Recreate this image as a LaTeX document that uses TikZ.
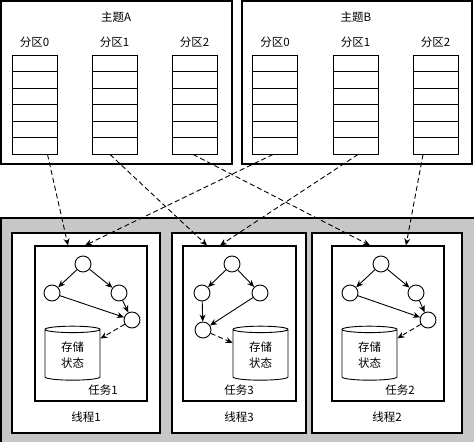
\documentclass[tikz,border=0pt]{standalone}
\usepackage{fontspec}
\setmainfont{Noto Sans CJK SC}
\usetikzlibrary{shapes.geometric, arrows.meta}

\tikzset{
  box/.style={draw, line width=1.2pt, inner sep=0pt},
  cell/.style={draw, minimum width=45pt, minimum height=16.5pt, inner sep=0pt},
  op/.style={draw, circle, minimum size=16pt, inner sep=0pt, fill=white},
  store/.style={draw, cylinder, shape border rotate=90, aspect=0.28,
    minimum width=55pt, minimum height=54pt, inner sep=0pt, align=center},
  feed/.style={->, dash pattern=on 5pt off 3pt},
  flow/.style={->}
}

\begin{document}
\begin{tikzpicture}[x=1pt, y=-1pt, >={Stealth[length=7pt, width=6pt]}, line width=0.9pt,
  font=\fontsize{11.5}{16}\selectfont]
\useasboundingbox (0,0) rectangle (474,442);
% topics
\node[box, minimum width=231pt, minimum height=163pt] (topicA) at (116.5,82.5) {};
\node[box, minimum width=230pt, minimum height=163pt] (topicB) at (357,82.5) {};
\node (titleA) at (116,17) {主题A};
\node (titleB) at (356,17) {主题B};
\foreach \p/\x in {0/34.5,1/114.5,2/194.5} {
  \node (pa\p) at (\x,42) {分区\p};
  \foreach \k in {1,...,6}
    \node[cell] (a\p-\k) at (\x,{55+16.5*(\k-0.5)}) {};
}
\foreach \p/\x in {0/275,1/355.5,2/435.5} {
  \node (pb\p) at (\x,42) {分区\p};
  \foreach \k in {1,...,6}
    \node[cell] (b\p-\k) at (\x,{55+16.5*(\k-0.5)}) {};
}
% cluster
\fill[black!22] (0,218) rectangle (474,442);
\draw[line width=1.4pt] (1,442) -- (1,218) -- (474,218);
\node[box, fill=white, minimum width=148pt, minimum height=200pt] (thread1) at (86,333) {};
\node[box, fill=white, minimum width=134pt, minimum height=200pt] (thread3) at (239,333) {};
\node[box, fill=white, minimum width=150pt, minimum height=200pt] (thread2) at (387,333) {};
\node (lthread1) at (86,417) {线程1};
\node (lthread3) at (239,417) {线程3};
\node (lthread2) at (387,417) {线程2};
\node[box, minimum width=112pt, minimum height=155pt] (task1) at (91,323.5) {};
\node[box, minimum width=113pt, minimum height=155pt] (task3) at (239.5,323.5) {};
\node[box, minimum width=112pt, minimum height=155pt] (task2) at (388,323.5) {};
\node (ltask1) at (103,390) {任务1};
\node (ltask3) at (239,390) {任务3};
\node (ltask2) at (400,390) {任务2};
% task 1
\node[op] (t1a) at (83,264) {};
\node[op] (t1b) at (52,293) {};
\node[op] (t1c) at (119,293) {};
\node[op] (t1d) at (132,320) {};
\node[store] (s1) at (72.5,355) {存储\\状态};
\draw[flow] (t1a) -- (t1b);
\draw[flow] (t1a) -- (t1c);
\draw[flow] (t1b) -- (t1d);
\draw[flow] (t1c) -- (t1d);
\draw[feed] (t1d) -- (s1);
% task 3
\node[op] (t3a) at (232,264) {};
\node[op] (t3b) at (202,293) {};
\node[op] (t3c) at (260,293) {};
\node[op] (t3d) at (203,330) {};
\node[store] (s3) at (260.5,355) {存储\\状态};
\draw[flow] (t3a) -- (t3b);
\draw[flow] (t3a) -- (t3c);
\draw[flow] (t3b) -- (t3d);
\draw[flow] (t3c) -- (t3d);
\draw[feed] (t3d) -- (s3);
% task 2
\node[op] (t2a) at (381,264) {};
\node[op] (t2b) at (350,293) {};
\node[op] (t2c) at (416,293) {};
\node[op] (t2d) at (428,320) {};
\node[store] (s2) at (369.5,355) {存储\\状态};
\draw[flow] (t2a) -- (t2b);
\draw[flow] (t2a) -- (t2c);
\draw[flow] (t2b) -- (t2d);
\draw[flow] (t2c) -- (t2d);
\draw[feed] (t2d) -- (s2);
% partitions to tasks
\draw[feed] ([xshift=13pt]a0-6.south) -- ([xshift=-23pt]task1.north);
\draw[feed] ([xshift=-2pt]b0-6.south) -- ([xshift=-6pt]task1.north);
\draw[feed] ([xshift=-4.5pt]a1-6.south) -- ([xshift=-32.5pt]task3.north);
\draw[feed] ([xshift=2.5pt]b1-6.south) -- ([xshift=-19.5pt]task3.north);
\draw[feed] ([xshift=-1.5pt]a2-6.south) -- ([xshift=-18pt]task2.north);
\draw[feed] ([xshift=-12.5pt]b2-6.south) -- ([xshift=18pt]task2.north);
\end{tikzpicture}
\end{document}
